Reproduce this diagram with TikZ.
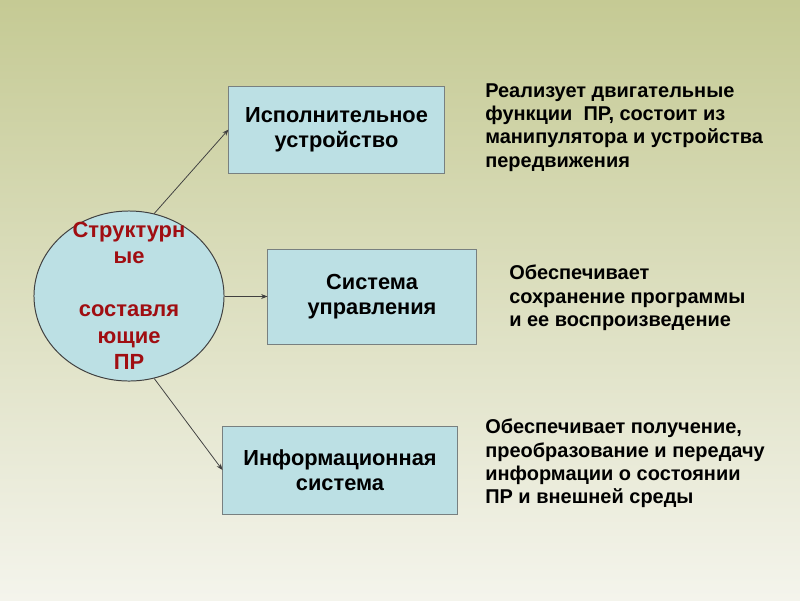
\documentclass[tikz,border=0pt]{standalone}
\usepackage{fontspec}
\setmainfont{Liberation Sans}
\usetikzlibrary{shapes.geometric,arrows.meta}
\definecolor{boxfill}{RGB}{188,224,228}
\definecolor{boxline}{RGB}{120,128,128}
\definecolor{titlered}{RGB}{160,14,18}
\definecolor{bgtop}{RGB}{197,202,148}
\definecolor{bgbottom}{RGB}{244,244,236}
\definecolor{linkgray}{RGB}{64,64,64}
\begin{document}
\begin{tikzpicture}[x=0.025cm, y=-0.025cm,
part/.style={draw=boxline, line width=0.7pt, fill=boxfill, rectangle, align=center, font=\fontsize{15.5}{17.8}\selectfont\bfseries},
note/.style={anchor=north west, inner sep=0pt, align=left, font=\fontsize{14.2}{16.6}\selectfont\bfseries},
link/.style={draw=linkgray, line width=0.55pt, ->},
>={Stealth[length=4.5pt,width=3.5pt]}
]
\shade[top color=bgtop, bottom color=bgbottom] (0,0) rectangle (800,600);
\useasboundingbox (0,0) rectangle (800,600);

\node[ellipse, draw=linkgray, line width=0.7pt, fill=boxfill, minimum width=4.75cm, minimum height=4.25cm, inner sep=0pt] (struct) at (129,296) {};
\node[align=center, text=titlered, font=\fontsize{15.6}{18.85}\selectfont\bfseries] (structtext) at (struct.center) {Структурн\\ые\\~\\составля\\ющие\\ПР};

\node[part, minimum width=5.375cm, minimum height=2.175cm] (exec) at (336.5,129.5) {Исполнительное\\устройство};
\node[part, minimum width=5.2cm, minimum height=2.375cm] (ctrl) at (372,296.5) {Система\\управления};
\node[part, minimum width=5.85cm, minimum height=2.2cm] (info) at (340,470) {Информационная\\система};

\node[note] (execnote) at (485,83) {Реализует двигательные\\функции\ \ ПР, состоит из\\манипулятора и устройства\\передвижения};
\node[note] (ctrlnote) at (509,265) {Обеспечивает\\сохранение программы\\и ее воспроизведение};
\node[note] (infonote) at (485,419) {Обеспечивает получение,\\преобразование и передачу\\информации о состоянии\\ПР и внешней среды};

\draw[link] (struct.73) -- (exec.west);
\draw[link] (struct.east |- ctrl.west) -- (ctrl.west);
\draw[link] (struct.-73) -- (info.west);
\end{tikzpicture}
\end{document}
